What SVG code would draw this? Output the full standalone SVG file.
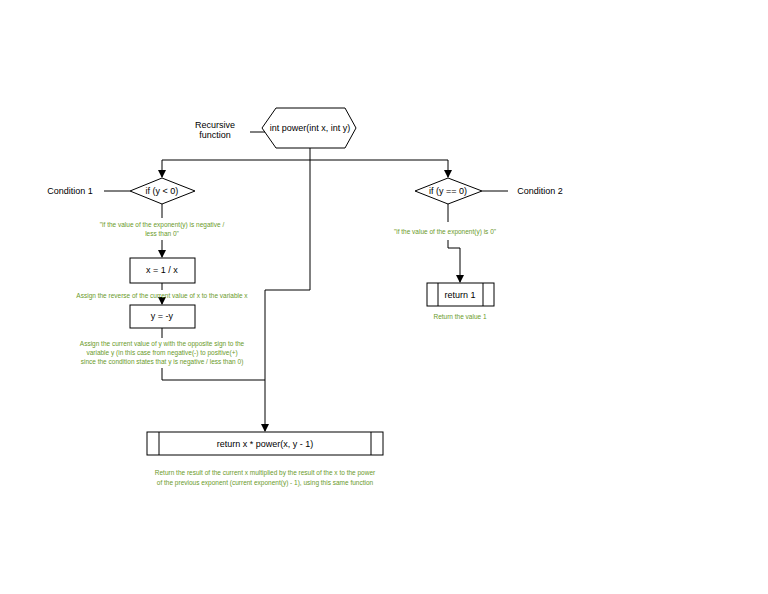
<svg xmlns="http://www.w3.org/2000/svg" width="768" height="594" viewBox="0 0 768 594">
<style>
text{font-family:"Liberation Sans",Arial,sans-serif;text-anchor:middle}
.n{font-size:9px;fill:#000}
.g{font-size:6.5px;fill:#6a9a2a}
.s{fill:#fff;stroke:#000;stroke-width:1}
.c{fill:none;stroke:#000;stroke-width:1}
</style>
<defs><marker id="a" markerWidth="8" markerHeight="8" refX="7" refY="4" orient="auto" markerUnits="userSpaceOnUse"><path d="M0,0L8,4L0,8z" fill="#000"/></marker></defs>
<rect width="768" height="594" fill="#fff"/>
<g id="connectors">
<path class="c" d="M250,132H266"/>
<path class="c" d="M162,160H448M162,160V177" marker-end="url(#a)"/>
<path class="c" d="M448,160V177" marker-end="url(#a)"/>
<path class="c" d="M104,191H130M482,191H508"/>
<path class="c" d="M162,204V218"/>
<path class="c" d="M162,240V257" marker-end="url(#a)"/>
<path class="c" d="M162,283V290"/>
<path class="c" d="M162,301V304" marker-end="url(#a)"/>
<path class="c" d="M162,328V338"/>
<path class="c" d="M162,368V380H265"/>
<path class="c" d="M310,148V290H265V431" marker-end="url(#a)"/>
<path class="c" d="M448,204V222"/>
<path class="c" d="M448,240V248H460V282" marker-end="url(#a)"/>
</g>
<g id="start"><polygon class="s" points="262,128 276,108 345,108 356,128 345,148 276,148"/><text class="n" x="310" y="131">int power(int x, int y)</text></g>
<g id="label-rec"><text class="n" x="215" y="128">Recursive</text><text class="n" x="215" y="138">function</text></g>
<g id="cond1"><polygon class="s" points="130,191 162,178 195,191 162,204"/><text class="n" x="162" y="194">if (y &lt; 0)</text></g>
<g id="label-c1"><text class="n" x="70" y="194">Condition 1</text></g>
<g id="note1"><text class="g" x="162" y="227">"if the value of the exponent(y) is negative /</text><text class="g" x="162" y="236">less than 0"</text></g>
<g id="box1"><rect class="s" x="130" y="258" width="65" height="25"/><text class="n" x="162" y="273">x = 1 / x</text></g>
<g id="note2"><text class="g" x="162" y="298">Assign the reverse of the current value of x to the variable x</text></g>
<g id="box2"><rect class="s" x="130" y="305" width="65" height="23"/><text class="n" x="162" y="319">y = -y</text></g>
<g id="note3"><text class="g" x="162" y="346">Assign the current value of y with the opposite sign to the</text><text class="g" x="162" y="355">variable y (in this case from negative(-) to positive(+)</text><text class="g" x="162" y="364">since the condition states that y is negative / less than 0)</text></g>
<g id="ret"><rect class="s" x="147" y="432" width="236" height="23"/><path class="c" d="M159,432V455M371,432V455"/><text class="n" x="265" y="447">return x * power(x, y - 1)</text></g>
<g id="note4"><text class="g" x="265" y="475">Return the result of the current x multiplied by the result of the x to the power</text><text class="g" x="265" y="485">of the previous exponent (current exponent(y) - 1), using this same function</text></g>
<g id="cond2"><polygon class="s" points="415,191 448,178 482,191 448,204"/><text class="n" x="448" y="194">if (y == 0)</text></g>
<g id="label-c2"><text class="n" x="540" y="194">Condition 2</text></g>
<g id="note5"><text class="g" x="445" y="234">"if the value of the exponent(y) is 0"</text></g>
<g id="ret1"><rect class="s" x="427" y="283" width="67" height="23"/><path class="c" d="M438,283V306M483,283V306"/><text class="n" x="460" y="298">return 1</text></g>
<g id="note6"><text class="g" x="460" y="319">Return the value 1</text></g>
</svg>
